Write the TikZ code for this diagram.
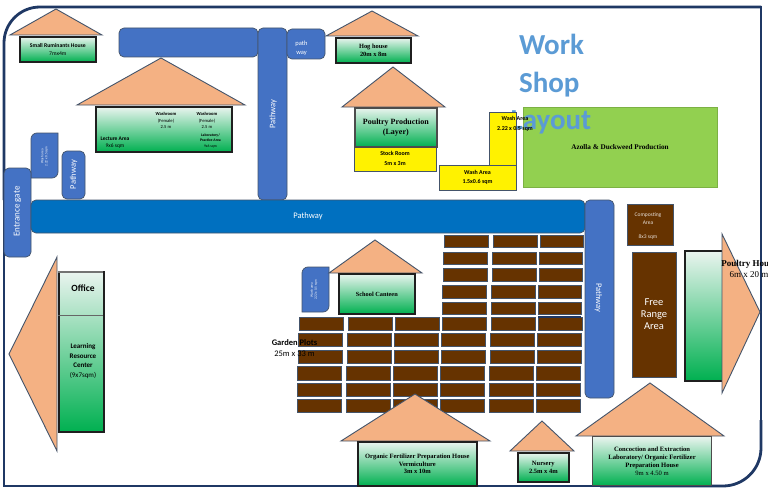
\documentclass[tikz,border=0pt]{standalone}
\usepackage{fontspec}
\setmainfont{Liberation Serif}
\setsansfont{Carlito}
\definecolor{framenavy}{HTML}{1F3864}
\definecolor{pathblue}{HTML}{4472C4}
\definecolor{mainblue}{HTML}{0070C0}
\definecolor{roofpeach}{HTML}{F4B183}
\definecolor{soilbrown}{HTML}{663300}
\definecolor{titleblue}{HTML}{5B9BD5}
\definecolor{azollagreen}{HTML}{92D050}
\definecolor{edgeblue}{HTML}{44546A}
\definecolor{fadegreen}{HTML}{EAF4EF}
\definecolor{deepgreen}{HTML}{00B050}
\tikzset{
    roof/.style={draw=edgeblue, fill=roofpeach, line width=0.9pt, line join=miter},
    body/.style={draw=black!88, line width=1.7pt, top color=fadegreen, bottom color=deepgreen, inner sep=0pt, align=center, anchor=north west},
    path box/.style={draw=edgeblue, fill=pathblue, line width=0.7pt, rounded corners=5pt, text=white, font=\sffamily},
    yellow box/.style={draw=edgeblue, fill=yellow, line width=0.9pt, inner sep=0pt, align=center, font=\sffamily\bfseries\fontsize{6}{9.5}\selectfont},
    brown box/.style={draw=edgeblue, fill=soilbrown, line width=0.9pt, inner sep=0pt, align=center, text=white},
    plot box/.style={draw=edgeblue, fill=soilbrown, line width=0.7pt},
    small wash/.style={rotate=90, text=white, align=center, font=\sffamily\fontsize{3.4}{4}\selectfont},
    title word/.style={anchor=west, text=titleblue, font=\sffamily\bfseries\fontsize{29}{30}\selectfont},
}
\begin{document}
\begin{tikzpicture}[x=1pt, y=-1pt]
    \useasboundingbox (0,0) rectangle (768,503);
    \fill[white] (0,0) rectangle (768,503);

    % site outline
    \draw[framenavy, line width=2.8pt, rounded corners=36pt] (4,200) -- (4,7) -- (761,7);
    \draw[framenavy, line width=2.8pt] (761,5.6) -- (761,440);
    \draw[framenavy, line width=2.8pt, rounded corners=38pt] (761,420) -- (761,486) -- (600,486);
    \draw[framenavy, line width=2.8pt] (620,486) -- (4,486) -- (4,180);

    % pathways
    \node[path box, minimum width=139pt, minimum height=29pt] (topbar) at (188.5,42.5) {};
    \node[path box, minimum width=29pt, minimum height=172pt] (midpath) at (272.5,114) {};
    \node[rotate=90, text=white, font=\sffamily\fontsize{8.5}{10}\selectfont] (midlabel) at (273,114) {Pathway};
    \node[path box, minimum width=38pt, minimum height=30pt] (pathway) at (306,44) {};
    \node[align=center, text=white, font=\sffamily\fontsize{6.5}{9}\selectfont] (pathwaylabel) at (301.5,48.5) {path\\way};
    \node[path box, minimum width=23pt, minimum height=48pt] (smallpath) at (73.5,175) {};
    \node[rotate=90, text=white, font=\sffamily\fontsize{8.5}{10}\selectfont] (smalllabel) at (73.5,174.5) {Pathway};
    \draw[draw=edgeblue, fill=pathblue, line width=0.7pt] (31,178) [rounded corners=6pt] -- (31,133) [sharp corners] -- (58,133) [rounded corners=6pt] -- (58,178) [sharp corners] -- cycle;
    \node[small wash] (washone) at (44.5,156.5) {Wash area\\2.22 x 0.5 sqm};
    \node[path box, minimum width=27pt, minimum height=89pt] (gate) at (17.5,212.5) {};
    \node[rotate=90, text=white, font=\sffamily\fontsize{9}{10}\selectfont] (gatelabel) at (17.5,211.5) {Entrance gate};
    \node[path box, fill=mainblue, minimum width=554pt, minimum height=33pt] (mainpath) at (308,216.5) {};
    \node[text=white, font=\sffamily\fontsize{8.5}{10}\selectfont] (mainlabel) at (308,216.5) {Pathway};
    \node[path box, minimum width=29pt, minimum height=198pt] (rightpath) at (599.5,299) {};
    \node[rotate=-90, text=white, font=\sffamily\fontsize{8.5}{10}\selectfont] (rightlabel) at (598.5,298) {Pathway};
    \draw[draw=edgeblue, fill=pathblue, line width=0.7pt] (302,312) [rounded corners=6pt] -- (302,267) [sharp corners] -- (329,267) [rounded corners=6pt] -- (329,312) [sharp corners] -- cycle;
    \node[small wash] (washtwo) at (314,290) {Wash area\\2.22 x 0.5 sqm};

    % garden plots, upper part
    \foreach \ya/\yb/\dx in {235/248/1, 252/265/0, 268/282/0, 285/299/-1, 302/315/-1} {
        \foreach \xa/\xb in {443/487, 492/536, 539/582} {
            \draw[plot box] (\xa+\dx,\ya+0.3) rectangle (\xb+\dx,\yb-0.3);
        }
    }
    % garden plots, lower part
    \foreach \ya/\yb/\dx in {317/331/1, 333.5/347/0, 350/364/0, 366.5/381/-1, 383.5/397/-1, 399/413/-1} {
        \foreach \xa/\xb in {298/342, 347/391, 394/438, 441/485, 490/534, 537/581} {
            \draw[plot box] (\xa+\dx,\ya+0.3) rectangle (\xb+\dx,\yb-0.3);
        }
    }
    \draw[framenavy, line width=1.6pt] (538,317) -- (581,317);
    \node[align=center, font=\sffamily\fontsize{8.5}{11}\selectfont] (garden) at (294.5,348.5) {\textbf{Garden Plots}\\25m x 33 m};

    % other areas
    \node[brown box, minimum width=46pt, minimum height=41pt] (compost) at (650,224.5) {};
    \node[align=center, text=white!85!soilbrown, font=\sffamily\fontsize{5.5}{8}\selectfont] (compostlabel) at (648,226.5) {Composting\\Area\\[6pt]8x3 sqm};
    \node[brown box, minimum width=44pt, minimum height=125pt, font=\sffamily\fontsize{10.5}{12}\selectfont] (range) at (654,314.5) {Free\\Range\\Area};
    \node[draw=azollagreen!85!black, fill=azollagreen, line width=0.8pt, minimum width=194pt, minimum height=80pt, inner sep=0pt, font=\rmfamily\bfseries\fontsize{7.2}{9}\selectfont] (azolla) at (620,147) {Azolla \& Duckweed Production};

    % title
    \node[title word] (titlea) at (515.5,44.5) {Work};
    \node[title word] (titleb) at (515.5,85) {Shop};
    \node[title word] (titlec) at (507,122) {Layout};

    % wash areas
    \node[yellow box, minimum width=27pt, minimum height=53pt] (washv) at (502.5,138.5) {};
    \node[yellow box, minimum width=77pt, minimum height=25pt] (washh) at (477.5,177.5) {Wash Area\\1.5x0.6 sqm};
    \node[align=center, font=\sffamily\bfseries\fontsize{6}{9.5}\selectfont] (washlabel) at (515,124) {Wash Area\\2.22 x 0.5 sqm};
    \node[yellow box, minimum width=82pt, minimum height=25pt] (stock) at (395,158.5) {Stock Room\\5m x 3m};

    % houses
    \draw[roof] (10,35) -- (56,9) -- (102,35) -- cycle;
    \node[body, minimum width=76pt, minimum height=25pt, font=\sffamily\fontsize{5.7}{8}\selectfont] (ruminants) at (19,36) {\textbf{Small Ruminants House}\\7mx4m};
    \draw[roof] (77,105) -- (161,58) -- (245,105) -- cycle;
    \node[body, minimum width=136pt, minimum height=45pt] (lecture) at (95,106) {};
    \node[align=center, font=\sffamily\fontsize{4.6}{6.5}\selectfont] (washf) at (166,120.5) {\textbf{Washroom}\\(Female)\\2.5 m};
    \node[align=center, font=\sffamily\fontsize{4.6}{6.5}\selectfont] (washm) at (207,120.5) {\textbf{Washroom}\\(Female)\\2.5 m};
    \node[align=center, font=\sffamily\fontsize{3.8}{5.3}\selectfont] (lab) at (210.5,140.7) {\textbf{Laboratory/}\\\textbf{Practice Area}\\9x6 sqm};
    \node[align=center, font=\sffamily\fontsize{5.5}{7}\selectfont] (lecturelabel) at (115,142.5) {\textbf{Lecture Area}\\9x6 sqm};
    \draw[roof] (326,36) -- (372,11) -- (418,36) -- cycle;
    \node[body, minimum width=75pt, minimum height=25pt, font=\rmfamily\bfseries\fontsize{6.4}{8}\selectfont] (hog) at (335,37) {Hog house\\20m x 8m};
    \draw[roof] (342,107) -- (393,67) -- (445,107) -- cycle;
    \node[body, draw=black!70, minimum width=82pt, minimum height=39pt, font=\rmfamily\bfseries\fontsize{8}{10.5}\selectfont] (poultry) at (354,107) {Poultry Production\\(Layer)};
    \draw[roof] (329,273) -- (375,240) -- (422,273) -- cycle;
    \node[body, minimum width=76pt, minimum height=40pt, font=\rmfamily\bfseries\fontsize{6.3}{8}\selectfont] (canteen) at (338,273) {School Canteen};
    \draw[roof] (341,441) -- (415,394) -- (490,441) -- cycle;
    \node[body, minimum width=119pt, minimum height=44pt, font=\rmfamily\bfseries\fontsize{6.5}{7.5}\selectfont] (organic) at (357,441) {Organic Fertilizer Preparation House\\Vermiculture\\3m x 10m};
    \draw[roof] (510,451) -- (542,421) -- (574,451) -- cycle;
    \node[body, minimum width=51pt, minimum height=29pt, font=\rmfamily\bfseries\fontsize{6.5}{8}\selectfont] (nursery) at (517,452) {Nursery\\2.5m x 4m};
    \draw[roof] (576,436) -- (650,383) -- (724,436) -- cycle;
    \node[body, draw=black!70, line width=1.2pt, minimum width=119pt, minimum height=49pt, font=\rmfamily\bfseries\fontsize{6.6}{8}\selectfont] (concoction) at (592,436) {Concoction and Extraction\\Laboratory/ Organic Fertilizer\\Preparation House\\\mdseries 9m x 4.50 m};

    % office, on the left side
    \node[body, minimum width=45pt, minimum height=160pt] (office) at (58,271) {};
    \draw[black!55, line width=2pt] (58,272) -- (103,272);
    \draw[black!60, line width=0.8pt] (58,315) -- (103,315);
    \node[font=\sffamily\bfseries\fontsize{9.5}{10}\selectfont] (officelabel) at (83,288) {Office};
    \node[align=center, font=\sffamily\fontsize{7}{9.5}\selectfont] (resource) at (83,361) {\textbf{Learning}\\\textbf{Resource}\\\textbf{Center}\\(9x7sqm)};
    \draw[roof] (57,257) -- (9,354) -- (57,451) -- cycle;

    % poultry house, on the right side
    \node[body, minimum width=38pt, minimum height=130pt] (layerhouse) at (684,250) {};
    \draw[roof] (722,234) -- (760,312) -- (722,393) -- cycle;
    \node[align=center, font=\rmfamily\fontsize{9}{11}\selectfont] (poultrylabel) at (749,269) {\textbf{Poultry House}\\6m x 20 m};
\end{tikzpicture}
\end{document}
